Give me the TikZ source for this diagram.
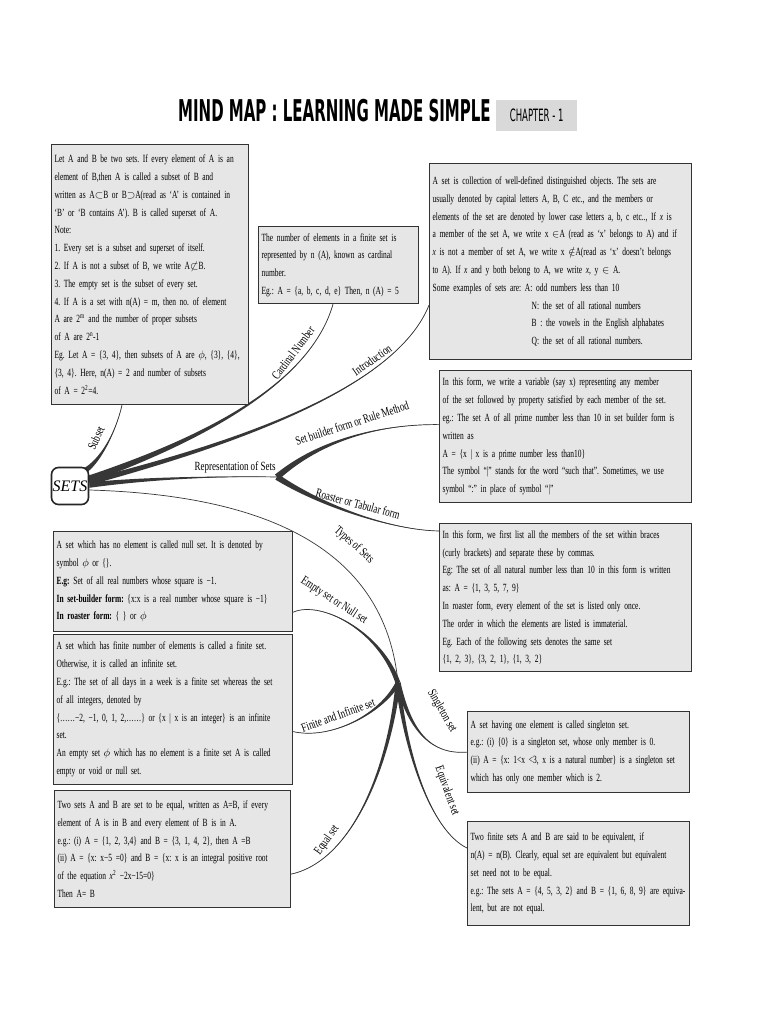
\documentclass[tikz,border=0pt]{standalone}
\usepackage{fontspec}
\usetikzlibrary{calc}
\setmainfont{Liberation Serif}
\newfontfamily\bodyfont[FakeStretch=0.68]{Liberation Serif}
\newfontfamily\labelfont[FakeStretch=0.72]{Liberation Serif}
\newfontfamily\titlefont[FakeStretch=0.5]{DejaVu Sans}
\definecolor{boxfill}{RGB}{229,230,229}
\definecolor{branchcol}{RGB}{55,55,55}
\pgfdeclarelayer{back}
\pgfdeclarelayer{bg}
\pgfsetlayers{back,bg,main}
\newcommand\taper[5]{%
  \fill[branchcol] ($#1+#5$) .. controls ($#2+0.5*#5$) and #3 .. #4 .. controls #3 and ($#2-0.5*#5$) .. ($#1-#5$) -- cycle;
  \draw[branchcol, line width=0.7pt] #1 .. controls #2 and #3 .. #4;}
\newcommand\tightsp{\spaceskip=2pt plus 0.5pt minus 0.3pt\xspaceskip=\spaceskip\relax}
\frenchspacing
\begin{document}
\begin{tikzpicture}[x=1pt,y=-1pt,
  infobox/.style={draw=black!80, line width=1.2pt, fill=boxfill, inner xsep=3pt, inner ysep=2pt, align=left, anchor=north west, font=\bodyfont\frenchspacing\fontsize{11}{17.8}\selectfont\tightsp},
  blabel/.style={font=\labelfont\fontsize{12.5}{13}\selectfont, inner sep=0pt}]
\begin{pgfonlayer}{back}
\fill[white] (0,0) rectangle (768,1024);
\end{pgfonlayer}
\useasboundingbox (0,0) rectangle (768,1024);

% title
\node[font=\titlefont\bfseries\fontsize{30}{30}\selectfont, anchor=west, inner sep=0pt] (title) at (178,111) {MIND MAP : LEARNING MADE SIMPLE};
\node[fill=black!15, minimum width=81pt, minimum height=31pt, anchor=north west, inner sep=0pt, font=\titlefont\fontsize{17}{17}\selectfont] (chapter) at (496,100) {CHAPTER - 1};

% central node
\node[draw=black!85, line width=1.6pt, rounded corners=7pt, fill=white, minimum width=37pt, minimum height=37pt, inner sep=0pt, font=\fontsize{16}{16}\selectfont\itshape] (sets) at (70,486) {SETS};

% boxes
\node[infobox, text width=191pt, minimum height=260pt] (subset) at (51,144) {Let A and B be two sets. If every element of A is an\\
element of B,then A is called a subset of B and\\
written as A$\subset$B or B$\supset$A(read as ‘A’ is contained in\\
‘B’ or ‘B contains A’). B is called superset of A.\\
Note:\\
1. Every set is a subset and superset of itself.\\
2. If A is not a subset of B, we write A$\not\subset$B.\\
3. The empty set is the subset of every set.\\
4. If A is a set with n(A) = m, then no. of element\\
A are 2\textsuperscript{m} and the number of proper subsets\\
of A are 2\textsuperscript{n}-1\\
Eg. Let A = \{3, 4\}, then subsets of A are $\phi$, \{3\}, \{4\},\\
\{3, 4\}. Here, n(A) = 2 and number of subsets\\
of A = 2\textsuperscript{2}=4.};

\node[infobox, text width=154pt, minimum height=77pt] (cardinal) at (258,226) {The number of elements in a finite set is\\
represented by n (A), known as cardinal\\
number.\\
Eg.: A = \{a, b, c, d, e\} Then, n (A) = 5};

\node[infobox, text width=256pt, minimum height=196pt] (intro) at (429,163) {A set is collection of well-defined distinguished objects. The sets are\\
usually denoted by capital letters A, B, C etc., and the members or\\
elements of the set are denoted by lower case letters a, b, c etc.., If \textit{x} is\\
a member of the set A, we write x $\in$A (read as ‘x’ belongs to A) and if\\
\textit{x} is not a member of set A, we write x $\notin$A(read as ‘x’ doesn’t belongs\\
to A). If \textit{x} and y both belong to A, we write \textit{x}, y $\in$ A.\\
Some examples of sets are: A: odd numbers less than 10\\
\hspace*{99pt}N: the set of all rational numbers\\
\hspace*{99pt}B : the vowels in the English alphabates\\
\hspace*{99pt}Q: the set of all rational numbers.};

\node[infobox, text width=246pt, minimum height=132pt] (setb) at (439,370) {In this form, we write a variable (say x) representing any member\\
of the set followed by property satisfied by each member of the set.\\
eg.: The set A of all prime number less than 10 in set builder form is\\
written as\\
A = \{x | x is a prime number less than10\}\\
The symbol “|” stands for the word “such that”. Sometimes, we use\\
symbol “:” in place of symbol “|”};

\node[infobox, text width=246pt, minimum height=148pt] (roast) at (439,523) {In this form, we first list all the members of the set within braces\\
(curly brackets) and separate these by commas.\\
Eg: The set of all natural number less than 10 in this form is written\\
as: A = \{1, 3, 5, 7, 9\}\\
In roaster form, every element of the set is listed only once.\\
The order in which the elements are listed is immaterial.\\
Eg. Each of the following sets denotes the same set\\
\{1, 2, 3\}, \{3, 2, 1\}, \{1, 3, 2\}};

\node[infobox, text width=233pt, minimum height=100pt] (empty) at (53,531) {A set which has no element is called null set. It is denoted by\\
symbol $\phi$ or \{\}.\\
\textbf{E.g:} Set of all real numbers whose square is −1.\\
\textbf{In set-builder form:} \{x:x is a real number whose square is −1\}\\
\textbf{In roaster form:} \{ \} or $\phi$};

\node[infobox, text width=233pt, minimum height=150pt] (finite) at (53,634) {A set which has finite number of elements is called a finite set.\\
Otherwise, it is called an infinite set.\\
E.g.: The set of all days in a week is a finite set whereas the set\\
of all integers, denoted by\\
\{……−2, −1, 0, 1, 2,……\} or \{x | x is an integer\} is an infinite\\
set.\\
An empty set $\phi$ which has no element is a finite set A is called\\
empty or void or null set.};

\node[infobox, text width=230pt, minimum height=117pt] (equal) at (54,790) {Two sets A and B are set to be equal, written as A=B, if every\\
element of A is in B and every element of B is in A.\\
e.g.: (i) A = \{1, 2, 3,4\} and B = \{3, 1, 4, 2\}, then A =B\\
(ii) A = \{x: x−5 =0\} and B = \{x: x is an integral positive root\\
of the equation \textit{x}\textsuperscript{2} −2x−15=0\}\\
Then A= B};

\node[infobox, text width=216pt, minimum height=81pt] (single) at (467,711) {A set having one element is called singleton set.\\
e.g.: (i) \{0\} is a singleton set, whose only member is 0.\\
(ii) A = \{x: 1<x <3, x is a natural number\} is a singleton set\\
which has only one member which is 2.};

\node[infobox, text width=216pt, minimum height=104pt] (equiv) at (467,821) {Two finite sets A and B are said to be equivalent, if\\
n(A) = n(B). Clearly, equal set are equivalent but equivalent\\
set need not to be equal.\\
e.g.: The sets A = \{4, 5, 3, 2\} and B = \{1, 6, 8, 9\} are equiva-\\
lent, but are not equal.};

% branch points
\coordinate (rSub) at ($(sets.north east)+(-3,3)$);
\coordinate (eSub) at ($(subset.south west)+(71,0)$);
\coordinate (rCard) at ($(sets.east)+(0,-7)$);
\coordinate (eCard) at ($(cardinal.south west)+(75,0)$);
\coordinate (rIntro) at ($(sets.east)+(0,-4)$);
\coordinate (eIntro) at ($(intro.south west)+(0,-55)$);
\coordinate (rRep) at ($(sets.east)+(0,-1)$);
\coordinate (rep) at (277,477);
\coordinate (eSetb) at ($(setb.west)+(0,-12)$);
\coordinate (eRoast) at ($(roast.north west)+(0,8)$);
\coordinate (rTypes) at ($(sets.east)+(0,4)$);
\coordinate (types) at (398,683);
\coordinate (eEmpty) at ($(empty.south east)+(0,-20)$);
\coordinate (eFinite) at ($(finite.east)+(0,22)$);
\coordinate (eEqual) at ($(equal.east)+(0,25)$);
\coordinate (eSingle) at (single.west);
\coordinate (eEquiv) at ($(equiv.north west)+(0,27)$);

\begin{pgfonlayer}{bg}
\taper{(rSub)}{(100,460)}{(115,435)}{(eSub)}{(1.8,1.8)}
\taper{(rCard)}{(200,440)}{(310,385)}{(eCard)}{(1.2,3.3)}
\taper{(rIntro)}{(230,445)}{(395,390)}{(eIntro)}{(0.8,2.8)}
\taper{(rRep)}{(150,478)}{(220,476)}{(rep)}{(0,2.8)}
\taper{(rep)}{(320,440)}{(380,424)}{(eSetb)}{(2,2.4)}
\taper{(rep)}{(320,505)}{(390,530)}{(eRoast)}{(-1.6,2.6)}
\draw[branchcol, line width=0.7pt] (rTypes) .. controls (260,495) and (385,545) .. (types);
\taper{(types)}{(380,630)}{(320,600)}{(eEmpty)}{(2.4,-0.7)}
\taper{(types)}{(380,715)}{(330,740)}{(eFinite)}{(2.4,0.6)}
\taper{(types)}{(390,760)}{(355,860)}{(eEqual)}{(2.5,0.3)}
\taper{(types)}{(410,730)}{(430,755)}{(eSingle)}{(2.5,-0.6)}
\taper{(types)}{(405,750)}{(430,830)}{(eEquiv)}{(2.5,-0.3)}
\end{pgfonlayer}

% branch labels
\node[blabel, rotate=65] (lSub) at (96,438) {Subset};
\node[blabel, rotate=53] (lCard) at (293,353) {Cardinal Number};
\node[blabel, rotate=35] (lIntro) at (372,360) {Introduction};
\node[blabel] (lRep) at (235,467) {Representation of Sets};
\node[blabel, rotate=18] (lSetb) at (352,423) {Set builder form or Rule Method};
\node[blabel, rotate=-15] (lRoast) at (358,504) {Roaster or Tabular form};
\node[blabel, rotate=-42] (lTypes) at (354,545) {Types of Sets};
\node[blabel, rotate=-33] (lEmpty) at (334,601) {Empty set or Null set};
\node[blabel, rotate=20] (lFinite) at (338,715) {Finite and Infinite set};
\node[blabel, rotate=55] (lEqual) at (327,840) {Equal set};
\node[blabel, rotate=-60] (lSingle) at (442,711) {Singleton set};
\node[blabel, rotate=-70] (lEquiv) at (447,791) {Equivalent set};
\end{tikzpicture}
\end{document}
